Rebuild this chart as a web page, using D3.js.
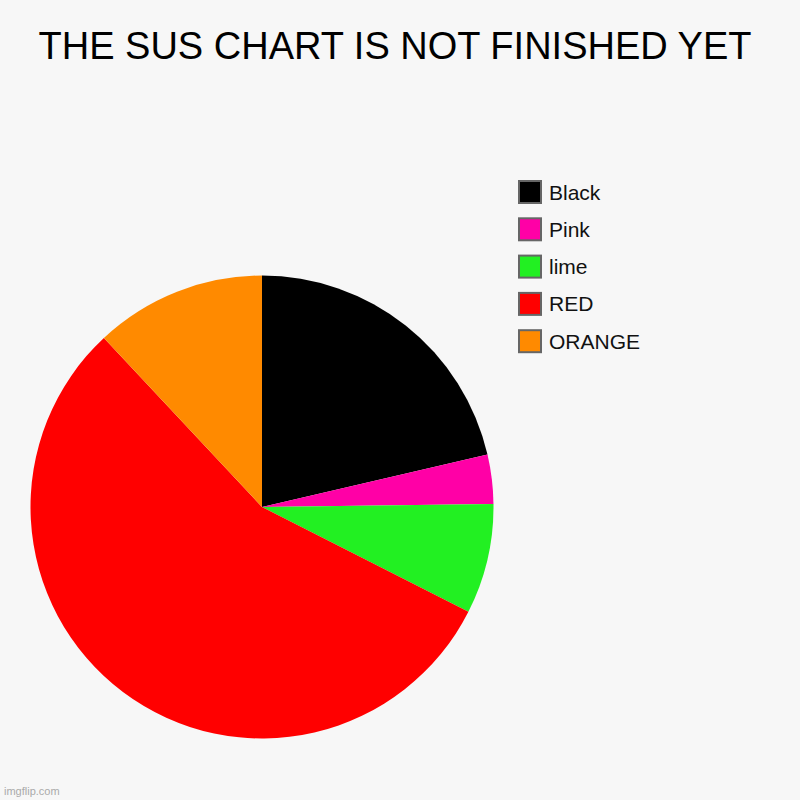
<!DOCTYPE html>
<html>
<head>
<meta charset="utf-8">
<script src="https://cdn.jsdelivr.net/npm/d3@7"></script>
<style>
  html, body { margin: 0; padding: 0; background: #f7f7f7; }
  svg { display: block; }
</style>
</head>
<body>
<svg id="chart" width="800" height="800"></svg>
<script>
// values
const categories = ['Black', 'Pink', 'lime', 'RED', 'ORANGE'];
const values = [25, 4, 9, 65, 14];
const colors = ['#000000', '#ff00a6', '#22f022', '#ff0000', '#ff8a00'];
const title = 'THE SUS CHART IS NOT FINISHED YET';

const svg = d3.select('#chart');
const width = +svg.attr('width');
const height = +svg.attr('height');

svg.append('rect')
    .attr('width', width)
    .attr('height', height)
    .attr('fill', '#f7f7f7');

svg.append('text')
    .attr('x', 395)
    .attr('y', 59)
    .attr('text-anchor', 'middle')
    .attr('font-family', 'Liberation Sans, Arial, sans-serif')
    .attr('font-size', 38)
    .attr('fill', '#000')
    .text(title);

const data = categories.map((c, i) => ({ key: c, value: values[i] }));

const color = d3.scaleOrdinal()
    .domain(categories)
    .range(colors);

const pie = d3.pie()
    .sort(null)
    .value(d => d.value);

const arc = d3.arc()
    .innerRadius(0)
    .outerRadius(231.5);

const g = svg.append('g')
    .attr('transform', 'translate(262, 507)');

g.selectAll('path')
  .data(pie(data))
  .enter()
  .append('path')
    .attr('d', arc)
    .attr('fill', d => color(d.data.key));

// legend
const legend = svg.append('g')
    .attr('transform', 'translate(519, 181)');

const rows = legend.selectAll('g')
  .data(categories)
  .enter()
  .append('g')
    .attr('transform', (d, i) => `translate(0, ${i * 37.3})`);

rows.append('rect')
    .attr('width', 22)
    .attr('height', 22)
    .attr('fill', d => color(d))
    .attr('stroke', '#666')
    .attr('stroke-width', 2);

rows.append('text')
    .attr('x', 30)
    .attr('y', 18.5)
    .attr('font-family', 'Liberation Sans, Arial, sans-serif')
    .attr('font-size', 21)
    .attr('fill', '#111')
    .text(d => d);

svg.append('text')
    .attr('x', 4)
    .attr('y', 795)
    .attr('font-family', 'Liberation Sans, Arial, sans-serif')
    .attr('font-size', 11)
    .attr('fill', '#aaa')
    .text('imgflip.com');
</script>
</body>
</html>
